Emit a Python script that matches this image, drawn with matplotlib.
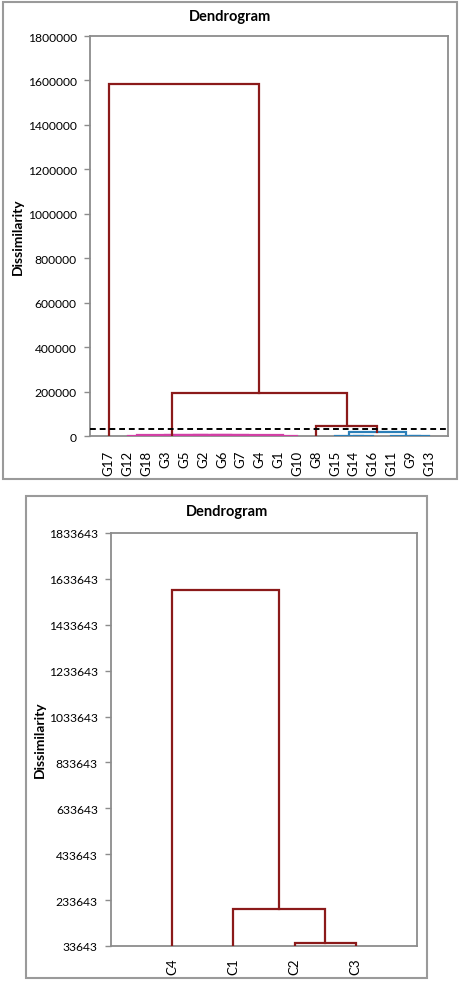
import matplotlib
matplotlib.use("Agg")
import matplotlib.pyplot as plt
from matplotlib.patches import Rectangle

plt.rcParams['font.family'] = ['Lato', 'DejaVu Sans']

# ---- top dendrogram (18 objects) ----
top_leaves = ["G17", "G12", "G18", "G3", "G5", "G2", "G6", "G7", "G4", "G1",
              "G10", "G8", "G15", "G14", "G16", "G11", "G9", "G13"]
# merges: (child a, child b, height); ids >= n refer to earlier merges
top_merges = [
    (1, 2, 1500), (4, 5, 1200), (6, 7, 1000), (8, 9, 800), (21, 10, 1800),
    (19, 20, 2500), (23, 22, 3000), (3, 24, 3500), (18, 25, 4000),
    (13, 14, 500), (12, 27, 1200), (16, 17, 500), (15, 29, 1000), (28, 30, 17000),
    (11, 31, 47000), (26, 32, 193000), (0, 33, 1585000),
]
top_colors = ["magenta"] * 9 + ["blue"] * 5 + ["red"] * 3
truncation = 31500
top_yticks = list(range(0, 1800001, 200000))

# ---- bottom dendrogram (4 classes) ----
bot_leaves = ["C4", "C1", "C2", "C3"]
bot_merges = [(2, 3, 47000), (1, 4, 193000), (0, 5, 1585000)]
bot_colors = ["red"] * 3
bot_base = 33643
bot_yticks = list(range(33643, 1833644, 200000))

palette = {"red": "#8b1a1a", "magenta": "#d23fa5", "blue": "#2b7fb8"}
GRAY = "#8c8c8c"
W, H = 474, 987


def draw_dendro(ax, leaves, merges, colors, base):
    n = len(leaves)
    xs = {i: i + 1 for i in range(n)}
    hs = {i: base for i in range(n)}
    for k, (a, b, h) in enumerate(merges):
        c = palette[colors[k]]
        ax.plot([xs[a], xs[a], xs[b], xs[b]], [hs[a], h, h, hs[b]],
                color=c, lw=1.6, solid_joinstyle="miter", zorder=3)
        xs[n + k] = (xs[a] + xs[b]) / 2
        hs[n + k] = h
    ax.set_xlim(0, n + 1)
    ax.set_xticks(range(1, n + 1))
    ax.set_xticklabels(leaves, rotation=90, fontsize=9.5)


def style(ax, yticks, xpad):
    ax.set_yticks(yticks)
    ax.set_yticklabels([str(v) for v in yticks], fontsize=8.7)
    ax.set_ylim(yticks[0], yticks[-1])
    for s in ax.spines.values():
        s.set_color(GRAY)
        s.set_linewidth(1.3)
    ax.tick_params(axis="y", length=4, color=GRAY, width=1, pad=5.5)
    ax.tick_params(axis="x", length=0, pad=xpad)


def frame(fig, x0, y0, x1, y1):
    fig.patches.append(Rectangle((x0 / W, 1 - y1 / H), (x1 - x0) / W, (y1 - y0) / H,
                                 transform=fig.transFigure, fill=False,
                                 edgecolor="#9a9a9a", lw=1.5, zorder=0))


fig = plt.figure(figsize=(W / 100, H / 100), dpi=100)

# top panel
frame(fig, 3, 3, 457, 480)
ax1 = fig.add_axes([90 / W, 1 - 437 / H, 358 / W, 400 / H])
draw_dendro(ax1, top_leaves, top_merges, top_colors, 0)
ax1.axhline(truncation, color="black", lw=1.4, ls=(0, (3, 2)), zorder=4)
style(ax1, top_yticks, 10)
fig.text(230 / W, 1 - 17 / H, "Dendrogram", ha="center", va="center",
         fontsize=10.5, fontweight="bold")
fig.text(18 / W, 1 - 237 / H, "Dissimilarity", ha="center", va="center",
         rotation=90, fontsize=10, fontweight="bold")

# bottom panel
frame(fig, 26, 497, 427, 979)
ax2 = fig.add_axes([111 / W, 1 - 947 / H, 306 / W, 413 / H])
draw_dendro(ax2, bot_leaves, bot_merges, bot_colors, bot_base)
style(ax2, bot_yticks, 8)
fig.text(227 / W, 1 - 512 / H, "Dendrogram", ha="center", va="center",
         fontsize=10.5, fontweight="bold")
fig.text(40 / W, 1 - 740 / H, "Dissimilarity", ha="center", va="center",
         rotation=90, fontsize=10, fontweight="bold")

fig.savefig("out.png", dpi=100)
